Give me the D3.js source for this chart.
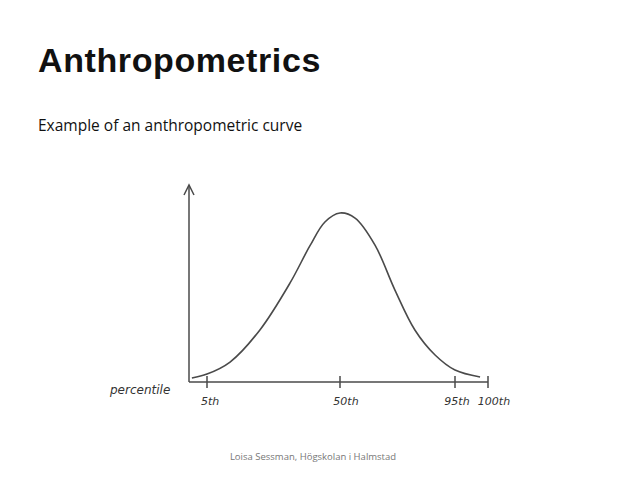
<!DOCTYPE html>
<html><head><meta charset="utf-8">
<script src="https://cdn.jsdelivr.net/npm/d3@7"></script>
<style>body{margin:0;background:#fff}</style>
</head><body>
<script>
// hand-drawn bell curve: percentile vs relative height
var percentiles = [0.8, 5, 12.8, 22.9, 33.1, 39.8, 44.9, 50, 55.9, 63.7, 71.5, 79.3, 87.2, 95, 98.8];
var heights = [2.4, 4.7, 11.8, 30.8, 58.6, 80.5, 94.7, 100, 97, 81, 54.4, 30.8, 16, 7.1, 3];
var tickValues = [5, 50, 95, 100];
var tickLabels = ["5th", "50th", "95th", "100th"];

var svg = d3.select("body").append("svg").attr("width", 638).attr("height", 478);

svg.append("text").attr("x", 38).attr("y", 72)
    .style("font-family", "Liberation Sans, Arial").style("font-weight", "bold")
    .style("font-size", "34px").style("letter-spacing", "0.6px")
    .attr("fill", "#111").text("Anthropometrics");

svg.append("text").attr("x", 38).attr("y", 131)
    .style("font-family", "Open Sans, sans-serif").style("font-size", "15.5px")
    .attr("fill", "#111").text("Example of an anthropometric curve");

svg.append("text").attr("x", 313).attr("y", 460).attr("text-anchor", "middle")
    .style("font-family", "Open Sans, sans-serif").style("font-size", "9.5px")
    .attr("fill", "#777").text("Loisa Sessman, Högskolan i Halmstad");

// uneven hand-drawn axis spacing
var x = d3.scaleLinear().domain([0, 5, 50, 95, 100]).range([189, 207, 340, 455, 488]);
var y = d3.scaleLinear().domain([0, 100]).range([382, 213]);

var pencil = "#4a4a4a";

// axes
svg.append("line").attr("x1", 189).attr("y1", 382).attr("x2", 189).attr("y2", 186)
    .attr("stroke", pencil).attr("stroke-width", 1.5);
svg.append("path").attr("d", "M184,195 L189,185 L194,195")
    .attr("fill", "none").attr("stroke", pencil).attr("stroke-width", 1.5);
svg.append("line").attr("x1", 189).attr("y1", 382).attr("x2", x(100)).attr("y2", 382)
    .attr("stroke", pencil).attr("stroke-width", 1.5);

svg.selectAll(".tick").data(tickValues).enter().append("line")
    .attr("x1", function(d) { return x(d); }).attr("x2", function(d) { return x(d); })
    .attr("y1", 376).attr("y2", 388).attr("stroke", pencil).attr("stroke-width", 1.5);

svg.selectAll(".tlabel").data(tickValues).enter().append("text")
    .attr("x", function(d) { return x(d); }).attr("y", 405)
    .attr("text-anchor", function(d, i) { return i === 0 ? "start" : "middle"; })
    .attr("dx", function(d, i) { return i === 0 ? -6 : (i === 2 ? 2 : 6); })
    .style("font-family", "DejaVu Sans, sans-serif").style("font-style", "italic")
    .style("font-size", "11px").attr("fill", "#333")
    .text(function(d, i) { return tickLabels[i]; });

svg.append("text").attr("x", 110).attr("y", 394)
    .style("font-family", "DejaVu Sans, sans-serif").style("font-style", "italic")
    .style("font-size", "12px").attr("fill", "#333").text("percentile");

var line = d3.line().x(function(d, i) { return x(percentiles[i]); })
    .y(function(d) { return y(d); }).curve(d3.curveCatmullRom);

svg.append("path").datum(heights).attr("d", line)
    .attr("fill", "none").attr("stroke", pencil).attr("stroke-width", 1.6);
</script>
</body></html>
